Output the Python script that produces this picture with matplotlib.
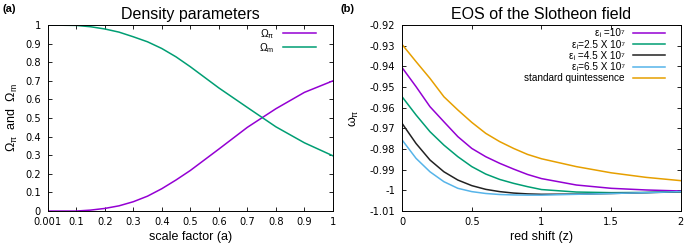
import numpy as np
import matplotlib
matplotlib.use('Agg')
import matplotlib.pyplot as plt

plt.rcParams['font.family'] = ['Liberation Sans', 'DejaVu Sans']
plt.rcParams['mathtext.fontset'] = 'custom'
plt.rcParams['mathtext.rm'] = 'Liberation Sans'
plt.rcParams['mathtext.it'] = 'Liberation Sans'

#### Data: panel (a) density parameters ####
scale_a = [0.001, 0.1, 0.15, 0.2, 0.25, 0.3, 0.35, 0.4, 0.45, 0.5, 0.6, 0.7, 0.8, 0.9, 1.0]
omega_pi = [0.0, 0.0, 0.005, 0.014, 0.028, 0.05, 0.08, 0.12, 0.167, 0.218,
            0.333, 0.45, 0.55, 0.638, 0.70]
omega_m = [1.0, 0.998, 0.991, 0.979, 0.962, 0.937, 0.91, 0.874, 0.829, 0.776,
           0.662, 0.557, 0.453, 0.367, 0.297]

#### Data: panel (b) EOS of the Slotheon field ####
red_z = [0, 0.1, 0.2, 0.3, 0.4, 0.5, 0.6, 0.7, 0.8, 0.9, 1.0, 1.25, 1.5, 1.75, 2.0]
w_e1 = [-0.9406, -0.9498, -0.9595, -0.9668, -0.9740, -0.9797, -0.9837, -0.9869,
        -0.9897, -0.9923, -0.9943, -0.9974, -0.999, -0.9998, -1.0003]
w_e25 = [-0.9547, -0.9635, -0.9716, -0.9781, -0.9837, -0.9885, -0.9921, -0.9947,
         -0.9966, -0.9982, -0.9996, -1.0008, -1.0011, -1.001, -1.0006]
w_e45 = [-0.9676, -0.9773, -0.9853, -0.9910, -0.9950, -0.9977, -0.9995, -1.0006,
         -1.0013, -1.0017, -1.0019, -1.0018, -1.0015, -1.0011, -1.0007]
w_e65 = [-0.9756, -0.9845, -0.9910, -0.9958, -0.9990, -1.0006, -1.0015, -1.002,
         -1.0022, -1.0023, -1.0023, -1.0019, -1.0015, -1.0011, -1.0006]
w_quint = [-0.9294, -0.9377, -0.9458, -0.9547, -0.9611, -0.9671, -0.9724, -0.9764,
           -0.9797, -0.9826, -0.9847, -0.9885, -0.9915, -0.9937, -0.9953]

eos_series = [w_e1, w_e25, w_e45, w_e65, w_quint]
eos_labels = ['ε\u1d62 =10\u2077',
              'ε\u1d62=2.5 X 10\u2077',
              'ε\u1d62 =4.5 X 10\u2077',
              'ε\u1d62=6.5 X 10\u2077',
              'standard quintessence']
eos_colors = ['#9400d3', '#009e73', '#222222', '#56b4e9', '#e69f00']

a_ticks = [0.001, 0.1, 0.2, 0.3, 0.4, 0.5, 0.6, 0.7, 0.8, 0.9, 1]
a_labels = ['0.001', '0.1', '0.2', '0.3', '0.4', '0.5', '0.6', '0.7', '0.8', '0.9', '1']
om_ticks = [0, 0.1, 0.2, 0.3, 0.4, 0.5, 0.6, 0.7, 0.8, 0.9, 1]
om_labels = ['0', '0.1', '0.2', '0.3', '0.4', '0.5', '0.6', '0.7', '0.8', '0.9', '1']
z_ticks = [0, 0.5, 1, 1.5, 2]
z_labels = ['0', '0.5', '1', '1.5', '2']
w_ticks = [-1.01, -1.0, -0.99, -0.98, -0.97, -0.96, -0.95, -0.94, -0.93, -0.92]
w_labels = ['-1.01', '-1', '-0.99', '-0.98', '-0.97', '-0.96', '-0.95', '-0.94', '-0.93', '-0.92']

purple = '#9400d3'
green = '#009e73'

fig = plt.figure(figsize=(6.85, 2.48), dpi=100)
ax1 = fig.add_axes([0.070, 0.149, 0.416, 0.750])
ax2 = fig.add_axes([0.587, 0.149, 0.407, 0.750])

def style(ax):
    ax.tick_params(direction='in', top=True, right=True, length=3, width=0.6)
    ax.tick_params(axis='x', pad=4)
    ax.tick_params(axis='y', pad=5)
    for lab in ax.get_xticklabels() + ax.get_yticklabels():
        lab.set_fontfamily('DejaVu Sans')
        lab.set_fontsize(7.1)
    for s in ax.spines.values():
        s.set_linewidth(0.7)

#### Panel (a) ####
ax1.plot(scale_a, omega_pi, color=purple, lw=1.1, label=r'$\Omega_{\pi}$')
ax1.plot(scale_a, omega_m, color=green, lw=1.1, label=r'$\Omega_{\rm m}$')
ax1.set_xlim(0.001, 1)
ax1.set_ylim(0, 1)
ax1.set_xticks(a_ticks, a_labels)
ax1.set_yticks(om_ticks, om_labels)
style(ax1)
ax1.set_xlabel('scale factor (a)', fontsize=9, labelpad=3)
ax1.set_ylabel(r'$\Omega_{\pi}$  and  $\Omega_{\rm m}$', fontsize=9, labelpad=4)
ax1.set_title('Density parameters', fontsize=11.5, pad=4)
ax1.legend(loc='upper right', bbox_to_anchor=(0.975, 1.04), frameon=False,
           markerfirst=False, fontsize=7.5, handlelength=3.2, labelspacing=0.0,
           handletextpad=0.8)
fig.text(0.003, 0.965, '(a)', fontsize=8, fontweight='bold', va='center')

#### Panel (b) ####
for vals, lab, col in zip(eos_series, eos_labels, eos_colors):
    ax2.plot(red_z, vals, color=col, lw=1.1, label=lab)
ax2.set_xlim(0, 2)
ax2.set_ylim(-1.01, -0.92)
ax2.set_xticks(z_ticks, z_labels)
ax2.set_yticks(w_ticks, w_labels)
style(ax2)
ax2.set_xlabel('red shift (z)', fontsize=9, labelpad=3)
ax2.set_ylabel(r'$\omega_{\pi}$', fontsize=9, labelpad=6)
ax2.set_title('EOS of the Slotheon field', fontsize=11.5, pad=4)
ax2.legend(loc='upper right', bbox_to_anchor=(0.975, 1.03), frameon=False,
           markerfirst=False, fontsize=7.2, handlelength=3.2, labelspacing=0.12,
           handletextpad=0.8)
fig.text(0.497, 0.965, '(b)', fontsize=8, fontweight='bold', va='center')

fig.savefig('out.png', dpi=100)
plt.close()
